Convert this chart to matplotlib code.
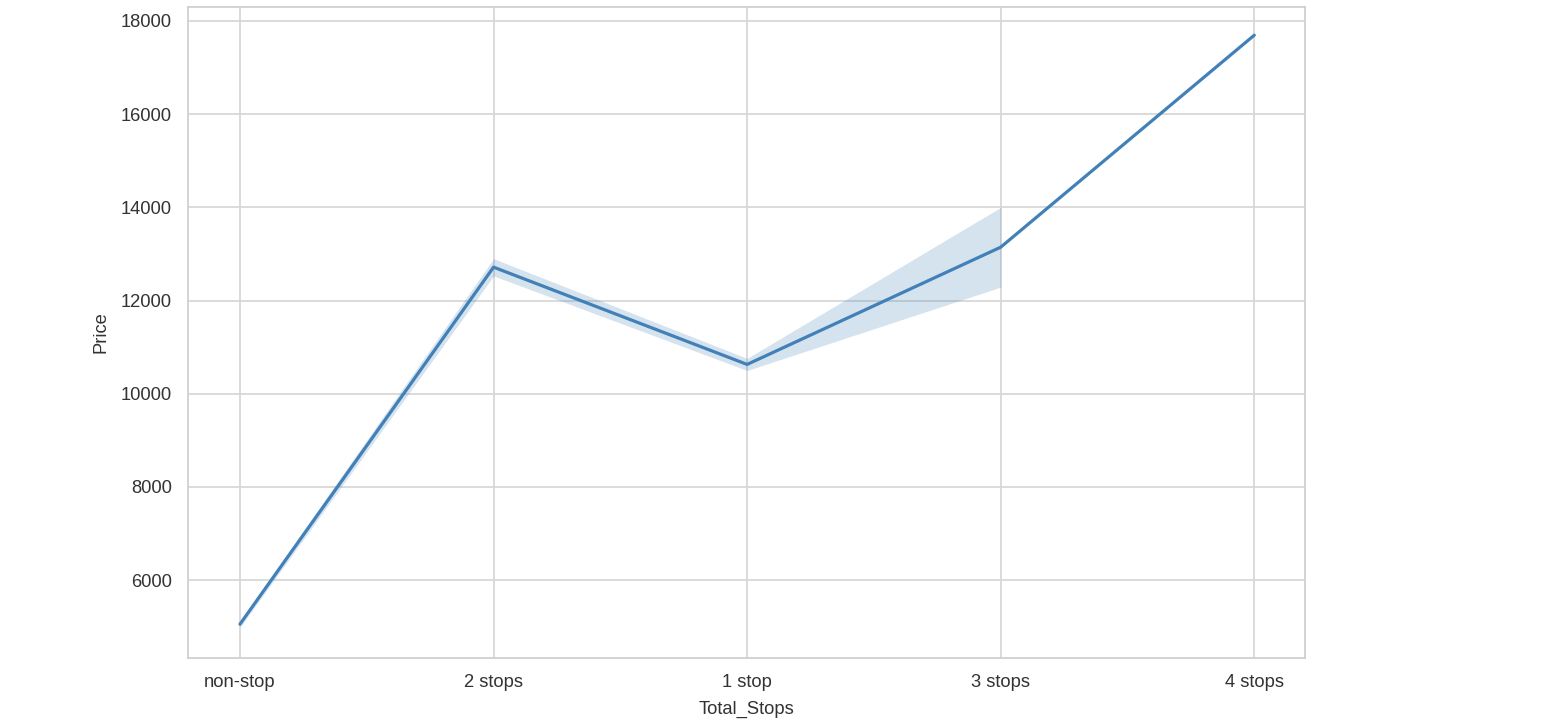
import matplotlib
matplotlib.use("Agg")
import matplotlib.pyplot as plt
import seaborn as sns
import numpy as np

sns.set_style("whitegrid")
plt.rcParams['font.family'] = ['Liberation Sans', 'DejaVu Sans']

categories = ["non-stop", "2 stops", "1 stop", "3 stops", "4 stops"]
price_mean = [5056, 12717, 10630, 13146, 17695]
ci_low = [4990, 12530, 10500, 12290, np.nan]
ci_high = [5120, 12900, 10760, 14000, np.nan]

fig = plt.figure(figsize=(15.44, 7.28), dpi=100)
ax = fig.add_axes([188/1544, 1-658/728, (1305-188)/1544, (658-7)/728])

x = list(range(len(categories)))
color = '#4280b8'
ax.fill_between(x, ci_low, ci_high, color=color, alpha=0.22, linewidth=0)
ax.plot(x, price_mean, color=color, linewidth=2.3)

ax.set_xticks(x)
ax.set_xticklabels(categories)
ax.set_xlim(-0.205, 4.2)
ax.set_ylim(4330, 18300)
ax.set_yticks([6000, 8000, 10000, 12000, 14000, 16000, 18000])
ax.tick_params(axis='both', labelsize=13.2, colors='#333333', pad=8)
ax.set_xlabel("Total_Stops", fontsize=13.2, color='#333333', labelpad=7)
ax.set_ylabel("Price", fontsize=13.2, color='#333333', labelpad=8)
for s in ax.spines.values():
    s.set_color('#d0d0d0')
    s.set_linewidth(1.3)
ax.grid(color='#d8d8d8', linewidth=1.3)

fig.savefig("out.png", dpi=100)
